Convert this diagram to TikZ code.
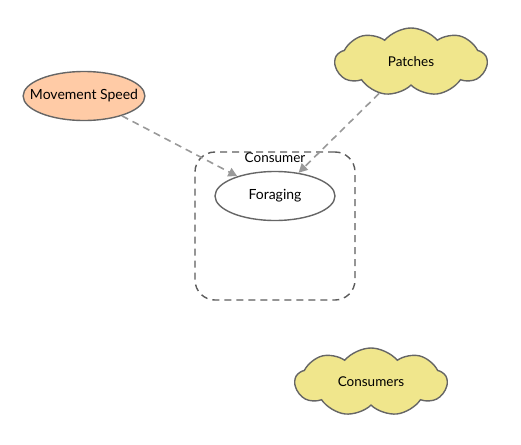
\documentclass[tikz,border=0pt]{standalone}
\usepackage{fontspec}
\setmainfont{Lato}
\definecolor{peach}{HTML}{FFCBA6}
\definecolor{khaki}{HTML}{F0E68C}
\definecolor{edgegray}{HTML}{666666}
\definecolor{arrowgray}{HTML}{999999}
\usetikzlibrary{positioning, arrows.meta, shapes.geometric, shapes.symbols}

\begin{document}
\begin{tikzpicture}[x=1pt, y=-1pt,
    var/.style={ellipse, draw=edgegray, line width=1.4pt, minimum width=120pt,
                minimum height=49pt, inner xsep=-11pt, inner ysep=1pt,
                font=\fontsize{14}{16}\selectfont},
    stock/.style={cloud, cloud puffs=9, cloud puff arc=100, aspect=2.2, draw=edgegray,
                line width=1.4pt, fill=khaki, minimum width=152pt, minimum height=68pt,
                font=\fontsize{13.5}{15}\selectfont},
    group/.style={rectangle, rounded corners=20pt, draw=edgegray!90!black, dashed,
                dash pattern=on 7pt off 5pt, line width=1.4pt,
                minimum width=160pt, minimum height=148pt},
    link/.style={-{Triangle[length=9pt, width=9pt]}, arrowgray, line width=1.6pt,
                dash pattern=on 7pt off 5pt},
  ]
    \useasboundingbox (0,0) rectangle (521,444);
    \node[group] (consumer) at (275,226) {};
    \node[font=\fontsize{13.5}{15}\selectfont, below=-2pt of consumer.north] (consumerlbl) {Consumer};
    \node[var, fill=peach] (speed) at (84,96) {Movement Speed};
    \node[var, fill=white] (forage) at (275,196) {Foraging};
    \node[stock] (patches) at (411,62) {Patches};
    \node[stock] (consumers) at (371,382) {Consumers};
    \draw[link] (speed) -- (forage);
    \draw[link] (patches) -- (forage);
  \end{tikzpicture}
\end{document}
